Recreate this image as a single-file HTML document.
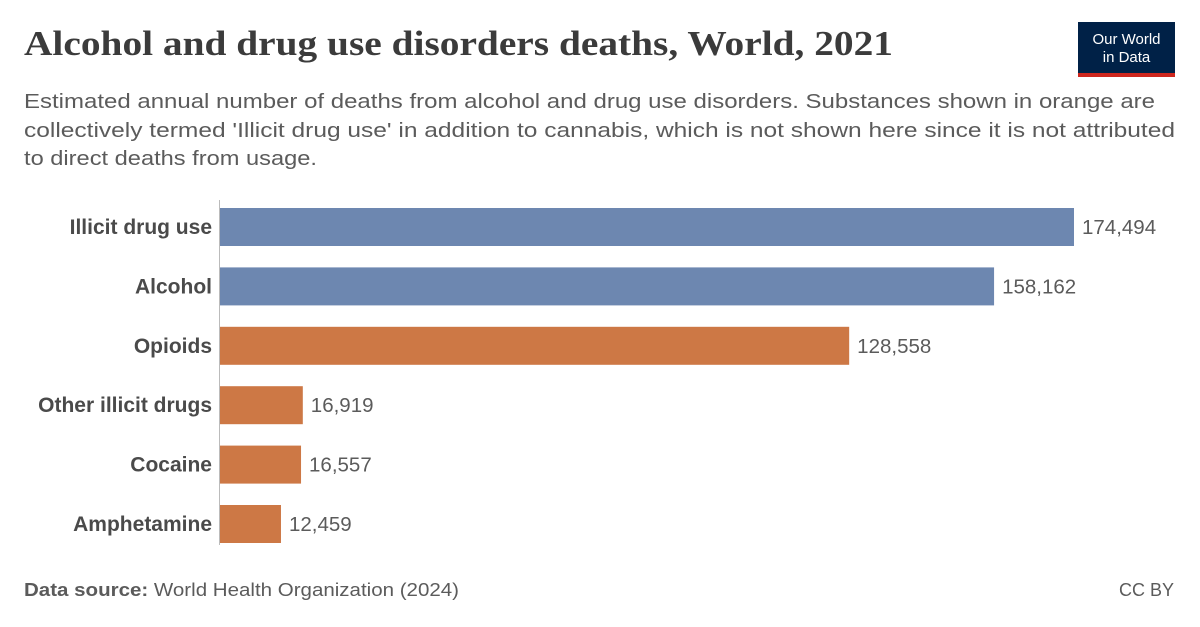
<!DOCTYPE html>
<html><head><meta charset="utf-8"><style>
body{margin:0;width:1200px;height:627px;background:#fff;font-family:"Liberation Sans",sans-serif;position:relative;overflow:hidden}
.t{position:absolute;margin:0;white-space:nowrap}
.s{position:absolute;left:24px;font-size:20.5px;line-height:24px;color:#5b5b5b;white-space:nowrap;transform-origin:0 0}
</style></head><body>
<h1 class="t" id="title" style="left:24px;top:24px;font-family:'Liberation Serif',serif;font-weight:bold;font-size:35px;color:#3b3b3b;transform-origin:0 0">Alcohol and drug use disorders deaths, World, 2021</h1>
<div class="t" style="left:1078px;top:22px;width:97px;height:55px;background:#002147;border-bottom:4px solid #ce261e;box-sizing:border-box;color:#fff;font-size:15px;line-height:18px;text-align:center;padding-top:9px;white-space:normal">Our World<br>in Data</div>
<div>
<div class="s" id="s1" style="top:90px">Estimated annual number of deaths from alcohol and drug use disorders. Substances shown in orange are</div>
<div class="s" id="s2" style="top:118.5px">collectively termed 'Illicit drug use' in addition to cannabis, which is not shown here since it is not attributed</div>
<div class="s" id="s3" style="top:147px">to direct deaths from usage.</div>
</div>
<svg id="chart" width="1200" height="627" style="position:absolute;left:0;top:0"></svg>
<div class="t" id="src" style="left:24px;top:580px;font-size:18px;color:#5b5b5b;transform-origin:0 0"><b>Data source:</b> World Health Organization (2024)</div>
<div class="t" style="right:26px;top:580px;font-size:18px;color:#5b5b5b">CC BY</div>
<script>
const categories=["Illicit drug use","Alcohol","Opioids","Other illicit drugs","Cocaine","Amphetamine"];
const values=[174494,158162,128558,16919,16557,12459];
const groups=["total","total","drug","drug","drug","drug"];
const colors={total:"#6d87b0",drug:"#cd7845"};
function fit(id,w){const e=document.getElementById(id);e.style.transform='scaleX('+(w/e.getBoundingClientRect().width)+')';}
fit('title',869);fit('src',435);fit('s1',1131);fit('s2',1151);fit('s3',293);
const svg=document.getElementById('chart');
const NS="http://www.w3.org/2000/svg";
const x0=220,xMax=1074,vMax=174494;
const x=v=>x0+(v/vMax)*(xMax-x0);
const y=i=>208+i*59.4;
const bh=38;
categories.forEach((c,i)=>{
 const r=document.createElementNS(NS,'rect');
 r.setAttribute('x',x0);r.setAttribute('y',y(i));r.setAttribute('width',x(values[i])-x0);r.setAttribute('height',bh);r.setAttribute('fill',colors[groups[i]]);
 
 
 svg.appendChild(r);
 const l=document.createElementNS(NS,'text');
 l.setAttribute('x',212);l.setAttribute('y',y(i)+bh/2+7);l.setAttribute('text-anchor','end');l.setAttribute('font-size','21');l.setAttribute('font-weight','bold');l.setAttribute('fill','#4a4a4a');l.textContent=c;
 
 
 svg.appendChild(l);
 const v=document.createElementNS(NS,'text');
 v.setAttribute('x',x(values[i])+8);v.setAttribute('y',y(i)+bh/2+7);v.setAttribute('font-size','20.5');v.setAttribute('fill','#5b5b5b');v.textContent=values[i].toLocaleString('en-US');
 
 
 svg.appendChild(v);
});
const ax=document.createElementNS(NS,'line');
ax.setAttribute('x1',219.5);ax.setAttribute('x2',219.5);ax.setAttribute('y1',200);ax.setAttribute('y2',545);ax.setAttribute('stroke','#bbb');


svg.appendChild(ax);
</script>
</body></html>
